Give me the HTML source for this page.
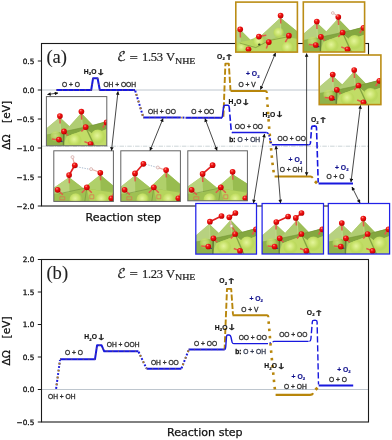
<!DOCTYPE html>
<html><head><meta charset="utf-8"><title>Reaction free energy diagram</title>
<style>
html,body{margin:0;padding:0;background:#fff;}
svg{display:block;}
text{font-family:"DejaVu Sans","Liberation Sans",sans-serif;fill:#2a2a2a;}
.tk{font-size:7.3px;fill:#111;stroke:#111;stroke-width:0.3px;}
.al{font-size:11.1px;fill:#111;stroke:#111;stroke-width:0.25px;}
.yl{font-size:10.6px;}
.lb{font-family:"Liberation Sans","DejaVu Sans",sans-serif;font-size:6.65px;fill:#2a2a2a;stroke:#2a2a2a;stroke-width:0.3px;}
.bd{font-family:"Liberation Sans","DejaVu Sans",sans-serif;font-size:6.75px;letter-spacing:0.2px;font-weight:bold;fill:#111;stroke:#111;stroke-width:0.15px;}
.bn{font-family:"Liberation Sans","DejaVu Sans",sans-serif;font-size:6.8px;font-weight:bold;fill:#10108c;stroke:#10108c;stroke-width:0.15px;}
.bc{font-weight:bold;fill:#111;stroke:#111;}
.bo{fill:#30384e;stroke:#30384e;}
.ar{font-family:"DejaVu Sans",sans-serif;font-size:8px;font-weight:normal;fill:#111;stroke:#111;stroke-width:0.22px;}
.pl{font-family:"Liberation Serif","DejaVu Serif",serif;font-size:18.6px;fill:#222;letter-spacing:0px;stroke:#222;stroke-width:0.1px;}
.eq{font-family:"Liberation Serif","DejaVu Serif",serif;font-size:12.6px;fill:#222;stroke:#222;stroke-width:0.2px;}
.ce{font-family:"DejaVu Math TeX Gyre","DejaVu Serif",serif;font-size:13.2px;fill:#222;stroke:#222;stroke-width:0.2px;}
</style></head>
<body>
<svg width="392" height="440" viewBox="0 0 392 440">
<rect x="0" y="0" width="392" height="440" fill="#fff"/>
<defs>
<radialGradient id="ra" cx="0.38" cy="0.32" r="0.75">
<stop offset="0" stop-color="#ff9a8a"/><stop offset="0.3" stop-color="#f01818"/><stop offset="0.8" stop-color="#d00000"/><stop offset="1" stop-color="#8a0000"/>
</radialGradient>
<radialGradient id="gs" cx="0.45" cy="0.4" r="0.6">
<stop offset="0" stop-color="#e4f59a"/><stop offset="0.6" stop-color="#c2de62"/><stop offset="1" stop-color="#a9cc4c" stop-opacity="0"/>
</radialGradient>
<marker id="ah" viewBox="0 0 6 6" refX="5.4" refY="3" markerWidth="4.3" markerHeight="3.9" orient="auto-start-reverse" markerUnits="userSpaceOnUse">
<path d="M0.4,0.2 L5.8,3 L0.4,5.8 Z" fill="#111"/>
</marker>
</defs>
<line x1="41.5" y1="90.0" x2="368.5" y2="90.0" stroke="#adb7c2" stroke-width="0.8"/>
<line x1="41.5" y1="146.2" x2="368.5" y2="146.2" stroke="#b4c2c6" stroke-width="0.7" stroke-dasharray="4.5,1.2,0.9,1.2"/>
<line x1="41.5" y1="389.5" x2="368.5" y2="389.5" stroke="#adb7c2" stroke-width="0.8"/>
<path d="M56.3,90 L91.2,90 L93.1,78.2 L97.6,78.2 L99.8,90 L135,90" fill="none" stroke="#1818de" stroke-width="2.0" stroke-linecap="butt" stroke-linejoin="round" />
<path d="M56.3,90 L91.2,90 L93.1,78.2 L97.6,78.2 L99.8,90 L135,90" fill="none" stroke="#b8860b" stroke-width="1.5" stroke-dasharray="0.8,4.9" stroke-linecap="butt" stroke-linejoin="round" stroke-opacity="0.55"/>
<path d="M135.2,90.6 L143.2,117" fill="none" stroke="#1818de" stroke-width="2.0" stroke-dasharray="1.9,1.6" stroke-linecap="butt" stroke-linejoin="round" />
<path d="M135.2,90.6 L143.2,117" fill="none" stroke="#b8860b" stroke-width="1.9" stroke-dasharray="1.6,5.4" stroke-linecap="butt" stroke-linejoin="round" stroke-dashoffset="-3.6"/>
<path d="M143.2,117.6 L180.8,117.6" fill="none" stroke="#1818de" stroke-width="2.0" stroke-linecap="butt" stroke-linejoin="round" />
<path d="M143.2,117.6 L180.8,117.6" fill="none" stroke="#b8860b" stroke-width="1.5" stroke-dasharray="0.8,4.9" stroke-linecap="butt" stroke-linejoin="round" stroke-opacity="0.55"/>
<path d="M182.6,117.6 L184.4,117.6" fill="none" stroke="#1818de" stroke-width="2.0" stroke-linecap="butt" stroke-linejoin="round" />
<path d="M181.2,117.6 L182.4,117.6" fill="none" stroke="#b8860b" stroke-width="1.6" stroke-linecap="butt" stroke-linejoin="round" />
<path d="M185.6,117.7 L222,117.7" fill="none" stroke="#1818de" stroke-width="2.0" stroke-linecap="butt" stroke-linejoin="round" />
<path d="M185.6,117.7 L222,117.7" fill="none" stroke="#b8860b" stroke-width="1.5" stroke-dasharray="0.8,4.9" stroke-linecap="butt" stroke-linejoin="round" stroke-opacity="0.55"/>
<path d="M227,63.6 L225.4,63.6 L223.4,117.4" fill="none" stroke="#b8860b" stroke-width="1.9" stroke-dasharray="6.1,2.3" stroke-linecap="butt" stroke-linejoin="round" stroke-dashoffset="1.8"/>
<path d="M227,63.6 L228.8,63.6 L230.5,90.6" fill="none" stroke="#b8860b" stroke-width="1.9" stroke-dasharray="6.1,2.3" stroke-linecap="butt" stroke-linejoin="round" stroke-dashoffset="1.8"/>
<path d="M230.6,91 L265.2,91 C266.3,91 266.8,91.6 266.9,93" fill="none" stroke="#b8860b" stroke-width="2.1" stroke-linecap="butt" stroke-linejoin="round" />
<path d="M267.0,97.2 L269.0,126 L272.3,162 L274.2,176" fill="none" stroke="#b8860b" stroke-width="2.6" stroke-dasharray="2.5,4.8" stroke-linecap="butt" stroke-linejoin="round" />
<path d="M274.6,176.5 L310.5,176.5 C311.6,176.5 312.2,177 312.8,177.8" fill="none" stroke="#b8860b" stroke-width="2.1" stroke-linecap="butt" stroke-linejoin="round" />
<path d="M316,180.2 l2,2 l-2,2 l-2,-2z" fill="#b8860b"/>
<path d="M221.5,117.7 C222.6,117.7 222.5,116 222.7,114 L223.6,107 C223.8,105.4 224.2,105.3 225.2,105.3 L227.8,105.3 C228.8,105.3 229,105.6 229.2,107" fill="none" stroke="#1818de" stroke-width="1.6" stroke-linecap="butt" stroke-linejoin="round" />
<path d="M229.2,107 L231.2,130.5 C231.4,132.4 231.8,132.5 233,132.5" fill="none" stroke="#1818de" stroke-width="1.6" stroke-dasharray="6.4,2.6" stroke-linecap="butt" stroke-linejoin="round" stroke-dashoffset="1.5"/>
<path d="M232.6,132.5 L266.3,132.5" fill="none" stroke="#1818de" stroke-width="1.6" stroke-linecap="butt" stroke-linejoin="round" />
<path d="M266.3,132.5 C268,132.6 268.6,134 269.2,136 L271,142.5 C271.6,144.7 272.2,144.8 274,144.8" fill="none" stroke="#1818de" stroke-width="1.6" stroke-dasharray="2.6,1.5,1.2,1.5" stroke-linecap="butt" stroke-linejoin="round" />
<path d="M273.6,144.8 L308.4,144.8" fill="none" stroke="#1818de" stroke-width="1.6" stroke-linecap="butt" stroke-linejoin="round" />
<path d="M315,126.1 L312.8,126.1 C311.9,126.1 311.7,126.3 311.6,127.6 L310.5,142.5 C310.3,144.6 310,144.8 308.4,144.8" fill="none" stroke="#1818de" stroke-width="1.6" stroke-dasharray="6.4,2.6" stroke-linecap="butt" stroke-linejoin="round" stroke-dashoffset="0"/>
<path d="M314,126.1 L315.2,126.1 C316.2,126.1 316.4,126.3 316.5,127.6 L318.2,182.4" fill="none" stroke="#1818de" stroke-width="1.6" stroke-dasharray="6.4,2.6" stroke-linecap="butt" stroke-linejoin="round" stroke-dashoffset="0"/>
<path d="M318.6,183.4 L353,183.4" fill="none" stroke="#1818de" stroke-width="2.0" stroke-linecap="butt" stroke-linejoin="round" />
<path d="M56.1,388.8 L60,360" fill="none" stroke="#1818de" stroke-width="2.0" stroke-dasharray="1.9,1.6" stroke-linecap="butt" stroke-linejoin="round" />
<path d="M56.1,388.8 L60,360" fill="none" stroke="#b8860b" stroke-width="1.9" stroke-dasharray="1.6,5.4" stroke-linecap="butt" stroke-linejoin="round" stroke-dashoffset="-3.6"/>
<path d="M60,359.2 L95,359.2 L97.1,345.2 L101.5,345.2 L104.2,351.3 L138.4,351.3" fill="none" stroke="#1818de" stroke-width="2.0" stroke-linecap="butt" stroke-linejoin="round" />
<path d="M60,359.2 L95,359.2 L97.1,345.2 L101.5,345.2 L104.2,351.3 L138.4,351.3" fill="none" stroke="#b8860b" stroke-width="1.5" stroke-dasharray="0.8,4.9" stroke-linecap="butt" stroke-linejoin="round" stroke-opacity="0.55"/>
<path d="M138.6,351.8 L146.4,368.4" fill="none" stroke="#1818de" stroke-width="2.0" stroke-dasharray="1.9,1.6" stroke-linecap="butt" stroke-linejoin="round" />
<path d="M138.6,351.8 L146.4,368.4" fill="none" stroke="#b8860b" stroke-width="1.9" stroke-dasharray="1.6,5.4" stroke-linecap="butt" stroke-linejoin="round" stroke-dashoffset="-3.6"/>
<path d="M146.6,368.8 L181.3,368.8" fill="none" stroke="#1818de" stroke-width="2.0" stroke-linecap="butt" stroke-linejoin="round" />
<path d="M146.6,368.8 L181.3,368.8" fill="none" stroke="#b8860b" stroke-width="1.5" stroke-dasharray="0.8,4.9" stroke-linecap="butt" stroke-linejoin="round" stroke-opacity="0.55"/>
<path d="M181.5,368.4 L188.6,350.2" fill="none" stroke="#1818de" stroke-width="2.0" stroke-dasharray="1.9,1.6" stroke-linecap="butt" stroke-linejoin="round" />
<path d="M181.5,368.4 L188.6,350.2" fill="none" stroke="#b8860b" stroke-width="1.9" stroke-dasharray="1.6,5.4" stroke-linecap="butt" stroke-linejoin="round" stroke-dashoffset="-3.6"/>
<path d="M188.6,349.5 L224.6,349.5" fill="none" stroke="#1818de" stroke-width="2.0" stroke-linecap="butt" stroke-linejoin="round" />
<path d="M188.6,349.5 L224.6,349.5" fill="none" stroke="#b8860b" stroke-width="1.5" stroke-dasharray="0.8,4.9" stroke-linecap="butt" stroke-linejoin="round" stroke-opacity="0.55"/>
<path d="M229,288.9 L227.0,288.9 L224.6,349" fill="none" stroke="#b8860b" stroke-width="1.9" stroke-dasharray="6.1,2.3" stroke-linecap="butt" stroke-linejoin="round" stroke-dashoffset="1.0"/>
<path d="M229,288.9 L231.2,288.9 L233.0,314.8" fill="none" stroke="#b8860b" stroke-width="1.9" stroke-dasharray="6.1,2.3" stroke-linecap="butt" stroke-linejoin="round" stroke-dashoffset="0.6"/>
<path d="M232.5,315.2 L266.8,315.2 C267.9,315.2 268.3,315.8 268.4,317.2" fill="none" stroke="#b8860b" stroke-width="2.1" stroke-linecap="butt" stroke-linejoin="round" />
<path d="M268.6,321.4 L271.0,350 L274.2,383 L275.4,394" fill="none" stroke="#b8860b" stroke-width="2.6" stroke-dasharray="2.5,4.8" stroke-linecap="butt" stroke-linejoin="round" />
<path d="M275.6,394.9 L310,394.9 C311.5,394.9 312.5,394.4 313.2,393.2" fill="none" stroke="#b8860b" stroke-width="2.2" stroke-linecap="butt" stroke-linejoin="round" />
<path d="M316.5,386.8 l2,2 l-2,2 l-2,-2z" fill="#b8860b"/>
<path d="M224.4,349.5 C225.6,349.5 225.6,348 225.8,346 L226.5,336.6 C226.6,335.2 226.9,335 227.7,335 L229.2,335 C230.2,335 230.6,335.2 231,337.2 L231.8,341 C232.2,343.4 232.6,343.6 234,343.6 L268,343.6" fill="none" stroke="#1818de" stroke-width="1.4" stroke-linecap="butt" stroke-linejoin="round" />
<path d="M269.6,343.2 L270.8,342.6" fill="none" stroke="#1818de" stroke-width="1.4" stroke-linecap="butt" stroke-linejoin="round" />
<path d="M272.6,341.8 L274,341.4 L308.6,341.4" fill="none" stroke="#1818de" stroke-width="1.4" stroke-linecap="butt" stroke-linejoin="round" />
<path d="M315.4,320.4 L313.6,320.4 C312.7,320.4 312.4,320.6 312.3,322 L310.9,339 C310.7,341 310.3,341.4 308.6,341.4" fill="none" stroke="#1818de" stroke-width="1.4" stroke-dasharray="6.4,2.6" stroke-linecap="butt" stroke-linejoin="round" />
<path d="M314.4,320.4 L315.8,320.4 C316.8,320.4 317,320.6 317.1,322 L318.5,384.4" fill="none" stroke="#1818de" stroke-width="1.4" stroke-dasharray="6.4,2.6" stroke-linecap="butt" stroke-linejoin="round" />
<path d="M318.7,385.5 L353.2,385.5" fill="none" stroke="#1818de" stroke-width="2.0" stroke-linecap="butt" stroke-linejoin="round" />
<g transform="translate(46.4,96.6)"><clipPath id="c46_96"><rect x="0" y="0" width="60.4" height="49.2"/></clipPath><rect x="0" y="0" width="60.4" height="49.2" fill="#fff"/><g clip-path="url(#c46_96)"><path d="M0,32 L13.4,20.6 L23,29.6 L34.9,16.4 L46.8,28.8 L60.4,24.6 L60.4,49.2 L0,49.2 Z" fill="#a8c865"/><path d="M0,32 L13.4,20.6 L14.2,36 L0,40 Z" fill="#b7d180"/><path d="M13.4,20.6 L23,29.6 L24,33.5 L17.5,35 L14.2,36 Z" fill="#a7c768"/><path d="M23,29.6 L34.9,16.4 L36,30.5 L17.5,35 Z" fill="#b0cd72"/><path d="M34.9,16.4 L46.8,28.8 L39,30.5 L36,30.5 Z" fill="#9dbe58"/><path d="M0,38 L14.2,35.5 L17.5,35 L16,49.2 L0,49.2 Z" fill="#8fb24a"/><path d="M17.5,35 L39,30.5 L60.4,24.6 L60.4,32.5 L47,38 L39.8,32.6 L20.5,39.8 Z" fill="#84a73f"/><path d="M20.5,39.8 L39.8,32.6 L47,38 L60.4,32.5 L60.4,49.2 L16,49.2 Z" fill="#c1dc66"/><circle cx="28.5" cy="44" r="7" fill="url(#gs)"/><circle cx="51.5" cy="40.5" r="7.5" fill="url(#gs)"/><circle cx="9.5" cy="40" r="5.5" fill="url(#gs)" opacity="0.65"/><path d="M17.5,36 L17,49.2" stroke="#4d6b26" stroke-width="1.6" fill="none" opacity="0.75"/><path d="M39.5,31 L48,49.2" stroke="#6a8a30" stroke-width="1.3" fill="none" opacity="0.7"/><path d="M17.5,35 L39,30.5 L60.4,25" stroke="#6d8c34" stroke-width="0.6" fill="none" opacity="0.7"/><path d="M13.6,21 L14.2,36 M35,17 L36,30" stroke="#cbe09a" stroke-width="0.7" fill="none"/><line x1="13.5" y1="21.0" x2="13.7" y2="27.0" stroke="#e25a48" stroke-width="1.5" stroke-linecap="butt"/><line x1="35.0" y1="17.0" x2="35.3" y2="23.0" stroke="#e25a48" stroke-width="1.5" stroke-linecap="butt"/><line x1="38.9" y1="30.6" x2="35.0" y2="35.0" stroke="#e25a48" stroke-width="1.5" stroke-linecap="butt"/><line x1="17.4" y1="35.4" x2="21.5" y2="38.5" stroke="#e25a48" stroke-width="1.5" stroke-linecap="butt"/><line x1="12.3" y1="43.3" x2="5.5" y2="42.5" stroke="#e25a48" stroke-width="1.5" stroke-linecap="butt"/><line x1="43.5" y1="47.1" x2="38.0" y2="45.0" stroke="#e25a48" stroke-width="1.5" stroke-linecap="butt"/><line x1="59.4" y1="26.1" x2="56.5" y2="31.0" stroke="#e25a48" stroke-width="1.5" stroke-linecap="butt"/><line x1="12.3" y1="43.3" x2="16.0" y2="45.0" stroke="#2a2a80" stroke-width="1.2" stroke-linecap="butt"/><circle cx="13.5" cy="19.5" r="2.85" fill="url(#ra)"/><circle cx="35.0" cy="15.0" r="2.85" fill="url(#ra)"/><circle cx="39.3" cy="30.5" r="2.85" fill="url(#ra)"/><circle cx="17.6" cy="34.8" r="2.85" fill="url(#ra)"/><circle cx="12.5" cy="43.0" r="2.85" fill="url(#ra)"/><circle cx="44.2" cy="47.4" r="2.85" fill="url(#ra)"/><circle cx="60.2" cy="25.8" r="2.85" fill="url(#ra)"/></g><rect x="0" y="0" width="60.4" height="49.2" fill="none" stroke="#636363" stroke-width="1.0"/></g>
<g transform="translate(53.8,150.8)"><clipPath id="c53_150"><rect x="0" y="0" width="59.6" height="50.6"/></clipPath><rect x="0" y="0" width="59.6" height="50.6" fill="#fff"/><g clip-path="url(#c53_150)"><path d="M0,37 L15.3,26.5 L29.5,37.5 L46.5,24 L59.6,35 L59.6,50.6 L0,50.6 Z" fill="#a9ca62"/><path d="M0,37 L15.3,26.5 L16.0,44 L0,46 Z" fill="#b9d47c"/><path d="M15.3,26.5 L29.5,37.5 L31.5,40 L16.0,44 Z" fill="#a2c45c"/><path d="M29.5,37.5 L46.5,24 L47.0,40 L31.5,40 Z" fill="#b0d06a"/><path d="M46.5,24 L59.6,35 L59.6,42 L47.0,40 Z" fill="#98bc50"/><path d="M0,43 L16,41.5 L33,37.5 L47,40 L59.6,40 L59.6,50.6 L0,50.6 Z" fill="#9fc152"/><path d="M33,38 L36,50.6 L59.6,50.6 L59.6,42 L47,40 Z" fill="#b6d55d"/><circle cx="22" cy="49" r="6.5" fill="url(#gs)"/><circle cx="48" cy="49" r="6.5" fill="url(#gs)"/><path d="M33,37 L31,50.6 M33,37 L5,43" stroke="#5f7d2a" stroke-width="0.7" fill="none" opacity="0.6"/><line x1="15.3" y1="25.5" x2="15.6" y2="32.5" stroke="#e25a48" stroke-width="1.5" stroke-linecap="butt"/><line x1="46.5" y1="23.0" x2="46.8" y2="29.5" stroke="#e25a48" stroke-width="1.5" stroke-linecap="butt"/><line x1="33.0" y1="37.0" x2="28.0" y2="42.0" stroke="#e25a48" stroke-width="1.5" stroke-linecap="butt"/><line x1="33.0" y1="37.0" x2="38.0" y2="42.0" stroke="#e25a48" stroke-width="1.5" stroke-linecap="butt"/><line x1="4.0" y1="39.0" x2="9.0" y2="44.0" stroke="#e25a48" stroke-width="1.5" stroke-linecap="butt"/><line x1="58.0" y1="47.5" x2="60.0" y2="42.0" stroke="#e25a48" stroke-width="1.5" stroke-linecap="butt"/><path d="M6,46 h5 v3 h-5z M36,44 h4 v4 h-4z" fill="none" stroke="#e07050" stroke-width="0.7"/><circle cx="33.0" cy="36.5" r="2.85" fill="url(#ra)"/><circle cx="3.8" cy="39.0" r="2.85" fill="url(#ra)"/><circle cx="57.5" cy="47.5" r="2.85" fill="url(#ra)"/><line x1="15.3" y1="24.3" x2="21.0" y2="14.5" stroke="#e02020" stroke-width="1.7" stroke-linecap="butt"/><line x1="21.0" y1="14.5" x2="18.8" y2="6.5" stroke="#e8a8a0" stroke-width="1.2" stroke-linecap="butt"/><path d="M23,16 L36,18.5" stroke="#8fa6bf" stroke-width="0.8" stroke-dasharray="1.3,1.3" fill="none"/><line x1="37.5" y1="18.5" x2="46.0" y2="21.5" stroke="#e8b0a8" stroke-width="1.2" stroke-linecap="butt"/><circle cx="21.0" cy="14.5" r="2.85" fill="url(#ra)"/><circle cx="15.3" cy="24.3" r="2.85" fill="url(#ra)"/><circle cx="46.5" cy="22.0" r="2.85" fill="url(#ra)"/><circle cx="18.7" cy="6.3" r="1.5" fill="#fff6f4" stroke="#c79a98" stroke-width="0.6"/><circle cx="37.3" cy="18.3" r="1.5" fill="#fff6f4" stroke="#c79a98" stroke-width="0.6"/></g><rect x="0" y="0" width="59.6" height="50.6" fill="none" stroke="#636363" stroke-width="1.0"/></g>
<g transform="translate(120.8,150.8)"><clipPath id="c120_150"><rect x="0" y="0" width="59.6" height="50.6"/></clipPath><rect x="0" y="0" width="59.6" height="50.6" fill="#fff"/><g clip-path="url(#c120_150)"><path d="M0,36 L14.1,24.6 L29.1,36.6 L45.3,21.2 L59.6,33.5 L59.6,50.6 L0,50.6 Z" fill="#a9ca62"/><path d="M0,36 L14.1,24.6 L14.799999999999999,44 L0,46 Z" fill="#b9d47c"/><path d="M14.1,24.6 L29.1,36.6 L31.1,40 L14.799999999999999,44 Z" fill="#a2c45c"/><path d="M29.1,36.6 L45.3,21.2 L45.8,40 L31.1,40 Z" fill="#b0d06a"/><path d="M45.3,21.2 L59.6,33.5 L59.6,42 L45.8,40 Z" fill="#98bc50"/><path d="M0,43 L16,41.5 L33,37.5 L47,40 L59.6,40 L59.6,50.6 L0,50.6 Z" fill="#9fc152"/><path d="M33,38 L36,50.6 L59.6,50.6 L59.6,42 L47,40 Z" fill="#b6d55d"/><circle cx="22" cy="49" r="6.5" fill="url(#gs)"/><circle cx="48" cy="49" r="6.5" fill="url(#gs)"/><path d="M33,37 L31,50.6 M33,37 L5,43" stroke="#5f7d2a" stroke-width="0.7" fill="none" opacity="0.6"/><line x1="14.1" y1="23.6" x2="14.4" y2="30.6" stroke="#e25a48" stroke-width="1.5" stroke-linecap="butt"/><line x1="45.3" y1="20.2" x2="45.6" y2="26.7" stroke="#e25a48" stroke-width="1.5" stroke-linecap="butt"/><line x1="33.0" y1="37.0" x2="28.0" y2="42.0" stroke="#e25a48" stroke-width="1.5" stroke-linecap="butt"/><line x1="33.0" y1="37.0" x2="38.0" y2="42.0" stroke="#e25a48" stroke-width="1.5" stroke-linecap="butt"/><line x1="4.0" y1="39.0" x2="9.0" y2="44.0" stroke="#e25a48" stroke-width="1.5" stroke-linecap="butt"/><line x1="58.0" y1="47.5" x2="60.0" y2="42.0" stroke="#e25a48" stroke-width="1.5" stroke-linecap="butt"/><path d="M6,46 h5 v3 h-5z M36,44 h4 v4 h-4z" fill="none" stroke="#e07050" stroke-width="0.7"/><circle cx="33.0" cy="36.5" r="2.85" fill="url(#ra)"/><circle cx="3.8" cy="39.0" r="2.85" fill="url(#ra)"/><circle cx="57.5" cy="47.5" r="2.85" fill="url(#ra)"/><line x1="14.3" y1="22.5" x2="22.6" y2="13.0" stroke="#e02020" stroke-width="1.6" stroke-linecap="butt"/><path d="M25,13.5 L36,16.5" stroke="#8fa6bf" stroke-width="0.8" stroke-dasharray="1.3,1.3" fill="none"/><line x1="37.5" y1="16.8" x2="45.0" y2="19.5" stroke="#e8b0a8" stroke-width="1.2" stroke-linecap="butt"/><circle cx="22.6" cy="13.0" r="2.85" fill="url(#ra)"/><circle cx="14.2" cy="22.6" r="2.85" fill="url(#ra)"/><circle cx="45.3" cy="19.3" r="2.85" fill="url(#ra)"/><circle cx="37.0" cy="16.7" r="1.5" fill="#fff6f4" stroke="#c79a98" stroke-width="0.6"/></g><rect x="0" y="0" width="59.6" height="50.6" fill="none" stroke="#636363" stroke-width="1.0"/></g>
<g transform="translate(187.8,150.8)"><clipPath id="c187_150"><rect x="0" y="0" width="59.6" height="50.0"/></clipPath><rect x="0" y="0" width="59.6" height="50.0" fill="#fff"/><g clip-path="url(#c187_150)"><path d="M0,35.7 L14.7,25.2 L29.1,37 L44.8,23.4 L59.6,33 L59.6,50.0 L0,50.0 Z" fill="#a9ca62"/><path d="M0,35.7 L14.7,25.2 L15.399999999999999,44 L0,46 Z" fill="#b9d47c"/><path d="M14.7,25.2 L29.1,37 L31.1,40 L15.399999999999999,44 Z" fill="#a2c45c"/><path d="M29.1,37 L44.8,23.4 L45.3,40 L31.1,40 Z" fill="#b0d06a"/><path d="M44.8,23.4 L59.6,33 L59.6,42 L45.3,40 Z" fill="#98bc50"/><path d="M0,43 L16,41.5 L33,37.5 L47,40 L59.6,40 L59.6,50.0 L0,50.0 Z" fill="#9fc152"/><path d="M33,38 L36,50.0 L59.6,50.0 L59.6,42 L47,40 Z" fill="#b6d55d"/><circle cx="22" cy="49" r="6.5" fill="url(#gs)"/><circle cx="48" cy="49" r="6.5" fill="url(#gs)"/><path d="M33,37 L31,50.0 M33,37 L5,43" stroke="#5f7d2a" stroke-width="0.7" fill="none" opacity="0.6"/><line x1="14.7" y1="24.2" x2="15.0" y2="31.2" stroke="#e25a48" stroke-width="1.5" stroke-linecap="butt"/><line x1="44.8" y1="22.4" x2="45.1" y2="28.9" stroke="#e25a48" stroke-width="1.5" stroke-linecap="butt"/><line x1="33.0" y1="37.0" x2="28.0" y2="42.0" stroke="#e25a48" stroke-width="1.5" stroke-linecap="butt"/><line x1="33.0" y1="37.0" x2="38.0" y2="42.0" stroke="#e25a48" stroke-width="1.5" stroke-linecap="butt"/><line x1="4.0" y1="39.0" x2="9.0" y2="44.0" stroke="#e25a48" stroke-width="1.5" stroke-linecap="butt"/><line x1="58.0" y1="47.5" x2="60.0" y2="42.0" stroke="#e25a48" stroke-width="1.5" stroke-linecap="butt"/><path d="M6,46 h5 v3 h-5z M36,44 h4 v4 h-4z" fill="none" stroke="#e07050" stroke-width="0.7"/><circle cx="33.0" cy="36.5" r="2.85" fill="url(#ra)"/><circle cx="3.8" cy="39.0" r="2.85" fill="url(#ra)"/><circle cx="57.5" cy="47.5" r="2.85" fill="url(#ra)"/><line x1="14.8" y1="23.0" x2="24.8" y2="14.4" stroke="#e02020" stroke-width="1.6" stroke-linecap="butt"/><circle cx="24.8" cy="14.4" r="2.85" fill="url(#ra)"/><circle cx="14.8" cy="23.1" r="2.85" fill="url(#ra)"/><circle cx="44.8" cy="21.0" r="2.85" fill="url(#ra)"/></g><rect x="0" y="0" width="59.6" height="50.0" fill="none" stroke="#636363" stroke-width="1.0"/></g>
<rect x="41.5" y="43.5" width="327.0" height="162.5" fill="none" stroke="#1a1a1a" stroke-width="1.1"/>
<rect x="41.5" y="259.5" width="327.0" height="162.5" fill="none" stroke="#1a1a1a" stroke-width="1.1"/>
<line x1="37.8" y1="61.0" x2="41.5" y2="61.0" stroke="#1a1a1a" stroke-width="1.0"/>
<text x="34.3" y="63.75" text-anchor="end" class="tk">0.5</text>
<line x1="37.8" y1="90.0" x2="41.5" y2="90.0" stroke="#1a1a1a" stroke-width="1.0"/>
<text x="34.3" y="92.75" text-anchor="end" class="tk">0.0</text>
<line x1="37.8" y1="119.0" x2="41.5" y2="119.0" stroke="#1a1a1a" stroke-width="1.0"/>
<text x="34.3" y="121.75" text-anchor="end" class="tk">−0.5</text>
<line x1="37.8" y1="148.0" x2="41.5" y2="148.0" stroke="#1a1a1a" stroke-width="1.0"/>
<text x="34.3" y="150.75" text-anchor="end" class="tk">−1.0</text>
<line x1="37.8" y1="177.0" x2="41.5" y2="177.0" stroke="#1a1a1a" stroke-width="1.0"/>
<text x="34.3" y="179.75" text-anchor="end" class="tk">−1.5</text>
<line x1="37.8" y1="206.0" x2="41.5" y2="206.0" stroke="#1a1a1a" stroke-width="1.0"/>
<text x="34.3" y="208.75" text-anchor="end" class="tk">−2.0</text>
<line x1="37.8" y1="259.5" x2="41.5" y2="259.5" stroke="#1a1a1a" stroke-width="1.0"/>
<text x="34.3" y="262.25" text-anchor="end" class="tk">2.0</text>
<line x1="37.8" y1="292.0" x2="41.5" y2="292.0" stroke="#1a1a1a" stroke-width="1.0"/>
<text x="34.3" y="294.75" text-anchor="end" class="tk">1.5</text>
<line x1="37.8" y1="324.5" x2="41.5" y2="324.5" stroke="#1a1a1a" stroke-width="1.0"/>
<text x="34.3" y="327.25" text-anchor="end" class="tk">1.0</text>
<line x1="37.8" y1="357.0" x2="41.5" y2="357.0" stroke="#1a1a1a" stroke-width="1.0"/>
<text x="34.3" y="359.75" text-anchor="end" class="tk">0.5</text>
<line x1="37.8" y1="389.5" x2="41.5" y2="389.5" stroke="#1a1a1a" stroke-width="1.0"/>
<text x="34.3" y="392.25" text-anchor="end" class="tk">0.0</text>
<line x1="37.8" y1="422.0" x2="41.5" y2="422.0" stroke="#1a1a1a" stroke-width="1.0"/>
<text x="34.3" y="424.75" text-anchor="end" class="tk">−0.5</text>
<text transform="translate(9.9,149.8) rotate(-90)" class="al yl">ΔΩ</text>
<text transform="translate(9.9,122.9) rotate(-90)" class="al yl">[eV]</text>
<text transform="translate(9.9,365.40000000000003) rotate(-90)" class="al yl">ΔΩ</text>
<text transform="translate(9.9,338.5) rotate(-90)" class="al yl">[eV]</text>
<text x="123.3" y="220.6" text-anchor="middle" class="al">Reaction step</text>
<text x="204.8" y="436.4" text-anchor="middle" class="al">Reaction step</text>
<text x="46.4" y="62.8" class="pl">(a)</text>
<text x="46.4" y="278.9" class="pl">(b)</text>
<text x="117.0" y="61.4" class="ce" textLength="9.2" lengthAdjust="spacingAndGlyphs">ℰ</text>
<text x="129.5" y="61.8" class="eq" textLength="8.4" lengthAdjust="spacingAndGlyphs">=</text>
<text x="141.9" y="61.4" class="eq" textLength="21.2" lengthAdjust="spacing">1.53</text>
<text x="165.9" y="61.4" class="eq">V</text>
<text x="175.0" y="63.699999999999996" class="eq" style="font-size:8.4px" textLength="20.4" lengthAdjust="spacingAndGlyphs">NHE</text>
<text x="117.0" y="277.5" class="ce" textLength="9.2" lengthAdjust="spacingAndGlyphs">ℰ</text>
<text x="129.5" y="277.9" class="eq" textLength="8.4" lengthAdjust="spacingAndGlyphs">=</text>
<text x="141.9" y="277.5" class="eq" textLength="21.2" lengthAdjust="spacing">1.23</text>
<text x="165.9" y="277.5" class="eq">V</text>
<text x="175.0" y="279.8" class="eq" style="font-size:8.4px" textLength="20.4" lengthAdjust="spacingAndGlyphs">NHE</text>
<g transform="translate(195.8,203.5)"><clipPath id="c195_203"><rect x="0" y="0" width="60.7" height="50.6"/></clipPath><rect x="0" y="0" width="60.7" height="50.6" fill="#fff"/><g clip-path="url(#c195_203)"><path d="M0,32 L13.4,20.6 L23,29.6 L34.9,16.4 L46.8,28.8 L60.7,24.6 L60.7,50.6 L0,50.6 Z" fill="#a8c865"/><path d="M0,32 L13.4,20.6 L14.2,36 L0,40 Z" fill="#b7d180"/><path d="M13.4,20.6 L23,29.6 L24,33.5 L17.5,35 L14.2,36 Z" fill="#a7c768"/><path d="M23,29.6 L34.9,16.4 L36,30.5 L17.5,35 Z" fill="#b0cd72"/><path d="M34.9,16.4 L46.8,28.8 L39,30.5 L36,30.5 Z" fill="#9dbe58"/><path d="M0,38 L14.2,35.5 L17.5,35 L16,50.6 L0,50.6 Z" fill="#8fb24a"/><path d="M17.5,35 L39,30.5 L60.7,24.6 L60.7,32.5 L47,38 L39.8,32.6 L20.5,39.8 Z" fill="#84a73f"/><path d="M20.5,39.8 L39.8,32.6 L47,38 L60.7,32.5 L60.7,50.6 L16,50.6 Z" fill="#c1dc66"/><circle cx="28.5" cy="44" r="7" fill="url(#gs)"/><circle cx="51.5" cy="40.5" r="7.5" fill="url(#gs)"/><circle cx="9.5" cy="40" r="5.5" fill="url(#gs)" opacity="0.65"/><path d="M17.5,36 L17,50.6" stroke="#4d6b26" stroke-width="1.6" fill="none" opacity="0.75"/><path d="M39.5,31 L48,50.6" stroke="#6a8a30" stroke-width="1.3" fill="none" opacity="0.7"/><path d="M17.5,35 L39,30.5 L60.7,25" stroke="#6d8c34" stroke-width="0.6" fill="none" opacity="0.7"/><path d="M13.6,21 L14.2,36 M35,17 L36,30" stroke="#cbe09a" stroke-width="0.7" fill="none"/><line x1="38.9" y1="30.6" x2="35.0" y2="35.0" stroke="#e25a48" stroke-width="1.5" stroke-linecap="butt"/><line x1="17.4" y1="35.4" x2="21.5" y2="38.5" stroke="#e25a48" stroke-width="1.5" stroke-linecap="butt"/><line x1="12.3" y1="43.3" x2="5.5" y2="42.5" stroke="#e25a48" stroke-width="1.5" stroke-linecap="butt"/><line x1="43.5" y1="47.1" x2="38.0" y2="45.0" stroke="#e25a48" stroke-width="1.5" stroke-linecap="butt"/><line x1="59.4" y1="26.1" x2="56.5" y2="31.0" stroke="#e25a48" stroke-width="1.5" stroke-linecap="butt"/><line x1="12.3" y1="43.3" x2="16.0" y2="45.0" stroke="#2a2a80" stroke-width="1.2" stroke-linecap="butt"/><circle cx="39.3" cy="30.5" r="2.85" fill="url(#ra)"/><circle cx="17.6" cy="34.8" r="2.85" fill="url(#ra)"/><circle cx="12.5" cy="43.0" r="2.85" fill="url(#ra)"/><circle cx="44.2" cy="47.4" r="2.85" fill="url(#ra)"/><circle cx="60.2" cy="25.8" r="2.85" fill="url(#ra)"/><line x1="14.1" y1="18.2" x2="25.7" y2="12.5" stroke="#e02020" stroke-width="1.6" stroke-linecap="butt"/><line x1="33.5" y1="13.8" x2="39.6" y2="9.5" stroke="#e02020" stroke-width="1.6" stroke-linecap="butt"/><line x1="34.5" y1="17.0" x2="35.5" y2="22.5" stroke="#e8b0a8" stroke-width="1.2" stroke-linecap="butt"/><line x1="36.0" y1="23.0" x2="39.5" y2="28.0" stroke="#e05040" stroke-width="1.3" stroke-linecap="butt"/><circle cx="25.7" cy="12.5" r="2.85" fill="url(#ra)"/><circle cx="14.1" cy="18.2" r="2.85" fill="url(#ra)"/><circle cx="39.6" cy="9.5" r="2.85" fill="url(#ra)"/><circle cx="33.5" cy="13.8" r="2.85" fill="url(#ra)"/><circle cx="35.6" cy="22.5" r="1.5" fill="#fff6f4" stroke="#c79a98" stroke-width="0.6"/></g><rect x="0" y="0" width="60.7" height="50.6" fill="none" stroke="#2222e8" stroke-width="1.25"/></g>
<g transform="translate(262.1,203.5)"><clipPath id="c262_203"><rect x="0" y="0" width="61.4" height="50.5"/></clipPath><rect x="0" y="0" width="61.4" height="50.5" fill="#fff"/><g clip-path="url(#c262_203)"><path d="M0,32 L13.4,20.6 L23,29.6 L34.9,16.4 L46.8,28.8 L61.4,24.6 L61.4,50.5 L0,50.5 Z" fill="#a8c865"/><path d="M0,32 L13.4,20.6 L14.2,36 L0,40 Z" fill="#b7d180"/><path d="M13.4,20.6 L23,29.6 L24,33.5 L17.5,35 L14.2,36 Z" fill="#a7c768"/><path d="M23,29.6 L34.9,16.4 L36,30.5 L17.5,35 Z" fill="#b0cd72"/><path d="M34.9,16.4 L46.8,28.8 L39,30.5 L36,30.5 Z" fill="#9dbe58"/><path d="M0,38 L14.2,35.5 L17.5,35 L16,50.5 L0,50.5 Z" fill="#8fb24a"/><path d="M17.5,35 L39,30.5 L61.4,24.6 L61.4,32.5 L47,38 L39.8,32.6 L20.5,39.8 Z" fill="#84a73f"/><path d="M20.5,39.8 L39.8,32.6 L47,38 L61.4,32.5 L61.4,50.5 L16,50.5 Z" fill="#c1dc66"/><circle cx="28.5" cy="44" r="7" fill="url(#gs)"/><circle cx="51.5" cy="40.5" r="7.5" fill="url(#gs)"/><circle cx="9.5" cy="40" r="5.5" fill="url(#gs)" opacity="0.65"/><path d="M17.5,36 L17,50.5" stroke="#4d6b26" stroke-width="1.6" fill="none" opacity="0.75"/><path d="M39.5,31 L48,50.5" stroke="#6a8a30" stroke-width="1.3" fill="none" opacity="0.7"/><path d="M17.5,35 L39,30.5 L61.4,25" stroke="#6d8c34" stroke-width="0.6" fill="none" opacity="0.7"/><path d="M13.6,21 L14.2,36 M35,17 L36,30" stroke="#cbe09a" stroke-width="0.7" fill="none"/><line x1="38.9" y1="30.6" x2="35.0" y2="35.0" stroke="#e25a48" stroke-width="1.5" stroke-linecap="butt"/><line x1="17.4" y1="35.4" x2="21.5" y2="38.5" stroke="#e25a48" stroke-width="1.5" stroke-linecap="butt"/><line x1="12.3" y1="43.3" x2="5.5" y2="42.5" stroke="#e25a48" stroke-width="1.5" stroke-linecap="butt"/><line x1="43.5" y1="47.1" x2="38.0" y2="45.0" stroke="#e25a48" stroke-width="1.5" stroke-linecap="butt"/><line x1="59.4" y1="26.1" x2="56.5" y2="31.0" stroke="#e25a48" stroke-width="1.5" stroke-linecap="butt"/><line x1="12.3" y1="43.3" x2="16.0" y2="45.0" stroke="#2a2a80" stroke-width="1.2" stroke-linecap="butt"/><circle cx="39.3" cy="30.5" r="2.85" fill="url(#ra)"/><circle cx="17.6" cy="34.8" r="2.85" fill="url(#ra)"/><circle cx="12.5" cy="43.0" r="2.85" fill="url(#ra)"/><circle cx="44.2" cy="47.4" r="2.85" fill="url(#ra)"/><circle cx="60.2" cy="25.8" r="2.85" fill="url(#ra)"/><line x1="14.2" y1="18.5" x2="26.0" y2="13.0" stroke="#e02020" stroke-width="1.6" stroke-linecap="butt"/><line x1="33.7" y1="14.4" x2="39.4" y2="9.5" stroke="#e02020" stroke-width="1.6" stroke-linecap="butt"/><line x1="13.9" y1="19.5" x2="14.0" y2="26.0" stroke="#e25a48" stroke-width="1.5" stroke-linecap="butt"/><line x1="34.0" y1="15.5" x2="34.3" y2="22.0" stroke="#e25a48" stroke-width="1.5" stroke-linecap="butt"/><circle cx="26.0" cy="13.0" r="2.85" fill="url(#ra)"/><circle cx="14.2" cy="18.5" r="2.85" fill="url(#ra)"/><circle cx="39.4" cy="9.5" r="2.85" fill="url(#ra)"/><circle cx="33.7" cy="14.4" r="2.85" fill="url(#ra)"/></g><rect x="0" y="0" width="61.4" height="50.5" fill="none" stroke="#2222e8" stroke-width="1.25"/></g>
<g transform="translate(328.3,203.5)"><clipPath id="c328_203"><rect x="0" y="0" width="61.3" height="50.5"/></clipPath><rect x="0" y="0" width="61.3" height="50.5" fill="#fff"/><g clip-path="url(#c328_203)"><path d="M0,32 L13.4,20.6 L23,29.6 L34.9,16.4 L46.8,28.8 L61.3,24.6 L61.3,50.5 L0,50.5 Z" fill="#a8c865"/><path d="M0,32 L13.4,20.6 L14.2,36 L0,40 Z" fill="#b7d180"/><path d="M13.4,20.6 L23,29.6 L24,33.5 L17.5,35 L14.2,36 Z" fill="#a7c768"/><path d="M23,29.6 L34.9,16.4 L36,30.5 L17.5,35 Z" fill="#b0cd72"/><path d="M34.9,16.4 L46.8,28.8 L39,30.5 L36,30.5 Z" fill="#9dbe58"/><path d="M0,38 L14.2,35.5 L17.5,35 L16,50.5 L0,50.5 Z" fill="#8fb24a"/><path d="M17.5,35 L39,30.5 L61.3,24.6 L61.3,32.5 L47,38 L39.8,32.6 L20.5,39.8 Z" fill="#84a73f"/><path d="M20.5,39.8 L39.8,32.6 L47,38 L61.3,32.5 L61.3,50.5 L16,50.5 Z" fill="#c1dc66"/><circle cx="28.5" cy="44" r="7" fill="url(#gs)"/><circle cx="51.5" cy="40.5" r="7.5" fill="url(#gs)"/><circle cx="9.5" cy="40" r="5.5" fill="url(#gs)" opacity="0.65"/><path d="M17.5,36 L17,50.5" stroke="#4d6b26" stroke-width="1.6" fill="none" opacity="0.75"/><path d="M39.5,31 L48,50.5" stroke="#6a8a30" stroke-width="1.3" fill="none" opacity="0.7"/><path d="M17.5,35 L39,30.5 L61.3,25" stroke="#6d8c34" stroke-width="0.6" fill="none" opacity="0.7"/><path d="M13.6,21 L14.2,36 M35,17 L36,30" stroke="#cbe09a" stroke-width="0.7" fill="none"/><line x1="13.5" y1="21.0" x2="13.7" y2="27.0" stroke="#e25a48" stroke-width="1.5" stroke-linecap="butt"/><line x1="35.0" y1="17.0" x2="35.3" y2="23.0" stroke="#e25a48" stroke-width="1.5" stroke-linecap="butt"/><line x1="38.9" y1="30.6" x2="35.0" y2="35.0" stroke="#e25a48" stroke-width="1.5" stroke-linecap="butt"/><line x1="17.4" y1="35.4" x2="21.5" y2="38.5" stroke="#e25a48" stroke-width="1.5" stroke-linecap="butt"/><line x1="12.3" y1="43.3" x2="5.5" y2="42.5" stroke="#e25a48" stroke-width="1.5" stroke-linecap="butt"/><line x1="43.5" y1="47.1" x2="38.0" y2="45.0" stroke="#e25a48" stroke-width="1.5" stroke-linecap="butt"/><line x1="59.4" y1="26.1" x2="56.5" y2="31.0" stroke="#e25a48" stroke-width="1.5" stroke-linecap="butt"/><line x1="12.3" y1="43.3" x2="16.0" y2="45.0" stroke="#2a2a80" stroke-width="1.2" stroke-linecap="butt"/><circle cx="13.5" cy="19.5" r="2.85" fill="url(#ra)"/><circle cx="35.0" cy="15.0" r="2.85" fill="url(#ra)"/><circle cx="39.3" cy="30.5" r="2.85" fill="url(#ra)"/><circle cx="17.6" cy="34.8" r="2.85" fill="url(#ra)"/><circle cx="12.5" cy="43.0" r="2.85" fill="url(#ra)"/><circle cx="44.2" cy="47.4" r="2.85" fill="url(#ra)"/><circle cx="60.2" cy="25.8" r="2.85" fill="url(#ra)"/></g><rect x="0" y="0" width="61.3" height="50.5" fill="none" stroke="#2222e8" stroke-width="1.25"/></g>
<g transform="translate(235.8,2.1)"><clipPath id="c235_2"><rect x="0" y="0" width="61.6" height="50"/></clipPath><rect x="0" y="0" width="61.6" height="50" fill="#fff"/><g clip-path="url(#c235_2)"><path d="M0,28.5 L4.5,27.5 L14.5,37.5 L22,35 L26,33 L44.6,15.6 L61.6,29.5 L61.6,50 L0,50 Z" fill="#a9c966"/><path d="M0,28.5 L4.5,27.5 L5,42 L0,44 Z" fill="#b6d17e"/><path d="M26,33 L44.6,15.6 L45,33 L34,38 Z" fill="#b3cf78"/><path d="M44.6,15.6 L61.6,29.5 L61.6,37 L45,33 Z" fill="#9cbf58"/><path d="M0,41 L14.5,38 L30,40.5 L45,34 L61.6,37 L61.6,50 L0,50 Z" fill="#bad862"/><circle cx="23" cy="40" r="6" fill="url(#gs)"/><circle cx="43" cy="31" r="5.5" fill="url(#gs)"/><circle cx="6" cy="46" r="5.5" fill="url(#gs)"/><circle cx="52" cy="46" r="6.5" fill="url(#gs)"/><circle cx="23.5" cy="42.5" r="1.2" fill="#3d4a20"/><path d="M4,41 L20,45.5 L33,38.5 L53,34.5" stroke="#6d8a33" stroke-width="0.8" fill="none" opacity="0.75"/><path d="M44.7,16 L45,33" stroke="#cbe09a" stroke-width="0.7" fill="none"/><line x1="4.4" y1="28.0" x2="4.6" y2="35.5" stroke="#e25a48" stroke-width="1.5" stroke-linecap="butt"/><line x1="44.8" y1="14.0" x2="45.0" y2="21.5" stroke="#e25a48" stroke-width="1.5" stroke-linecap="butt"/><line x1="23.0" y1="34.4" x2="30.5" y2="33.2" stroke="#e25a48" stroke-width="1.5" stroke-linecap="butt"/><line x1="33.0" y1="40.0" x2="30.5" y2="46.5" stroke="#e25a48" stroke-width="1.5" stroke-linecap="butt"/><line x1="53.0" y1="34.0" x2="49.5" y2="40.0" stroke="#e25a48" stroke-width="1.5" stroke-linecap="butt"/><circle cx="44.8" cy="13.4" r="2.85" fill="url(#ra)"/><circle cx="4.4" cy="27.2" r="2.85" fill="url(#ra)"/><circle cx="23.1" cy="34.5" r="2.85" fill="url(#ra)"/><circle cx="33.0" cy="40.0" r="2.85" fill="url(#ra)"/><circle cx="53.1" cy="33.6" r="2.85" fill="url(#ra)"/><circle cx="12.7" cy="47.2" r="2.85" fill="url(#ra)"/></g><rect x="0" y="0" width="61.6" height="50" fill="none" stroke="#bb8d16" stroke-width="1.6"/></g>
<g transform="translate(303.3,2.0)"><clipPath id="c303_2"><rect x="0" y="0" width="61.3" height="50"/></clipPath><rect x="0" y="0" width="61.3" height="50" fill="#fff"/><g clip-path="url(#c303_2)"><path d="M0,32 L13.4,20.6 L23,29.6 L34.9,16.4 L46.8,28.8 L61.3,24.6 L61.3,50 L0,50 Z" fill="#a8c865"/><path d="M0,32 L13.4,20.6 L14.2,36 L0,40 Z" fill="#b7d180"/><path d="M13.4,20.6 L23,29.6 L24,33.5 L17.5,35 L14.2,36 Z" fill="#a7c768"/><path d="M23,29.6 L34.9,16.4 L36,30.5 L17.5,35 Z" fill="#b0cd72"/><path d="M34.9,16.4 L46.8,28.8 L39,30.5 L36,30.5 Z" fill="#9dbe58"/><path d="M0,38 L14.2,35.5 L17.5,35 L16,50 L0,50 Z" fill="#8fb24a"/><path d="M17.5,35 L39,30.5 L61.3,24.6 L61.3,32.5 L47,38 L39.8,32.6 L20.5,39.8 Z" fill="#84a73f"/><path d="M20.5,39.8 L39.8,32.6 L47,38 L61.3,32.5 L61.3,50 L16,50 Z" fill="#c1dc66"/><circle cx="28.5" cy="44" r="7" fill="url(#gs)"/><circle cx="51.5" cy="40.5" r="7.5" fill="url(#gs)"/><circle cx="9.5" cy="40" r="5.5" fill="url(#gs)" opacity="0.65"/><path d="M17.5,36 L17,50" stroke="#4d6b26" stroke-width="1.6" fill="none" opacity="0.75"/><path d="M39.5,31 L48,50" stroke="#6a8a30" stroke-width="1.3" fill="none" opacity="0.7"/><path d="M17.5,35 L39,30.5 L61.3,25" stroke="#6d8c34" stroke-width="0.6" fill="none" opacity="0.7"/><path d="M13.6,21 L14.2,36 M35,17 L36,30" stroke="#cbe09a" stroke-width="0.7" fill="none"/><line x1="13.5" y1="21.0" x2="13.7" y2="27.0" stroke="#e25a48" stroke-width="1.5" stroke-linecap="butt"/><line x1="35.0" y1="17.0" x2="35.3" y2="23.0" stroke="#e25a48" stroke-width="1.5" stroke-linecap="butt"/><line x1="38.9" y1="30.6" x2="35.0" y2="35.0" stroke="#e25a48" stroke-width="1.5" stroke-linecap="butt"/><line x1="17.4" y1="35.4" x2="21.5" y2="38.5" stroke="#e25a48" stroke-width="1.5" stroke-linecap="butt"/><line x1="12.3" y1="43.3" x2="5.5" y2="42.5" stroke="#e25a48" stroke-width="1.5" stroke-linecap="butt"/><line x1="43.5" y1="47.1" x2="38.0" y2="45.0" stroke="#e25a48" stroke-width="1.5" stroke-linecap="butt"/><line x1="59.4" y1="26.1" x2="56.5" y2="31.0" stroke="#e25a48" stroke-width="1.5" stroke-linecap="butt"/><line x1="12.3" y1="43.3" x2="16.0" y2="45.0" stroke="#2a2a80" stroke-width="1.2" stroke-linecap="butt"/><circle cx="13.5" cy="19.5" r="2.85" fill="url(#ra)"/><circle cx="35.0" cy="15.0" r="2.85" fill="url(#ra)"/><circle cx="39.3" cy="30.5" r="2.85" fill="url(#ra)"/><circle cx="17.6" cy="34.8" r="2.85" fill="url(#ra)"/><circle cx="12.5" cy="43.0" r="2.85" fill="url(#ra)"/><circle cx="44.2" cy="47.4" r="2.85" fill="url(#ra)"/><circle cx="60.2" cy="25.8" r="2.85" fill="url(#ra)"/><circle cx="29.5" cy="11.0" r="1.4" fill="#fff6f4" stroke="#c79a98" stroke-width="0.6"/><line x1="30.8" y1="11.8" x2="34.0" y2="13.5" stroke="#e8b0a8" stroke-width="1.0" stroke-linecap="butt"/></g><rect x="0" y="0" width="61.3" height="50" fill="none" stroke="#bb8d16" stroke-width="1.6"/></g>
<g transform="translate(319.2,55.0)"><clipPath id="c319_55"><rect x="0" y="0" width="61.7" height="49.6"/></clipPath><rect x="0" y="0" width="61.7" height="49.6" fill="#fff"/><g clip-path="url(#c319_55)"><path d="M0,32 L13.4,20.6 L23,29.6 L34.9,16.4 L46.8,28.8 L61.7,24.6 L61.7,49.6 L0,49.6 Z" fill="#a8c865"/><path d="M0,32 L13.4,20.6 L14.2,36 L0,40 Z" fill="#b7d180"/><path d="M13.4,20.6 L23,29.6 L24,33.5 L17.5,35 L14.2,36 Z" fill="#a7c768"/><path d="M23,29.6 L34.9,16.4 L36,30.5 L17.5,35 Z" fill="#b0cd72"/><path d="M34.9,16.4 L46.8,28.8 L39,30.5 L36,30.5 Z" fill="#9dbe58"/><path d="M0,38 L14.2,35.5 L17.5,35 L16,49.6 L0,49.6 Z" fill="#8fb24a"/><path d="M17.5,35 L39,30.5 L61.7,24.6 L61.7,32.5 L47,38 L39.8,32.6 L20.5,39.8 Z" fill="#84a73f"/><path d="M20.5,39.8 L39.8,32.6 L47,38 L61.7,32.5 L61.7,49.6 L16,49.6 Z" fill="#c1dc66"/><circle cx="28.5" cy="44" r="7" fill="url(#gs)"/><circle cx="51.5" cy="40.5" r="7.5" fill="url(#gs)"/><circle cx="9.5" cy="40" r="5.5" fill="url(#gs)" opacity="0.65"/><path d="M17.5,36 L17,49.6" stroke="#4d6b26" stroke-width="1.6" fill="none" opacity="0.75"/><path d="M39.5,31 L48,49.6" stroke="#6a8a30" stroke-width="1.3" fill="none" opacity="0.7"/><path d="M17.5,35 L39,30.5 L61.7,25" stroke="#6d8c34" stroke-width="0.6" fill="none" opacity="0.7"/><path d="M13.6,21 L14.2,36 M35,17 L36,30" stroke="#cbe09a" stroke-width="0.7" fill="none"/><line x1="13.5" y1="21.0" x2="13.7" y2="27.0" stroke="#e25a48" stroke-width="1.5" stroke-linecap="butt"/><line x1="35.0" y1="17.0" x2="35.3" y2="23.0" stroke="#e25a48" stroke-width="1.5" stroke-linecap="butt"/><line x1="38.9" y1="30.6" x2="35.0" y2="35.0" stroke="#e25a48" stroke-width="1.5" stroke-linecap="butt"/><line x1="17.4" y1="35.4" x2="21.5" y2="38.5" stroke="#e25a48" stroke-width="1.5" stroke-linecap="butt"/><line x1="12.3" y1="43.3" x2="5.5" y2="42.5" stroke="#e25a48" stroke-width="1.5" stroke-linecap="butt"/><line x1="43.5" y1="47.1" x2="38.0" y2="45.0" stroke="#e25a48" stroke-width="1.5" stroke-linecap="butt"/><line x1="59.4" y1="26.1" x2="56.5" y2="31.0" stroke="#e25a48" stroke-width="1.5" stroke-linecap="butt"/><line x1="12.3" y1="43.3" x2="16.0" y2="45.0" stroke="#2a2a80" stroke-width="1.2" stroke-linecap="butt"/><circle cx="13.5" cy="19.5" r="2.85" fill="url(#ra)"/><circle cx="35.0" cy="15.0" r="2.85" fill="url(#ra)"/><circle cx="39.3" cy="30.5" r="2.85" fill="url(#ra)"/><circle cx="17.6" cy="34.8" r="2.85" fill="url(#ra)"/><circle cx="12.5" cy="43.0" r="2.85" fill="url(#ra)"/><circle cx="44.2" cy="47.4" r="2.85" fill="url(#ra)"/><circle cx="60.2" cy="25.8" r="2.85" fill="url(#ra)"/></g><rect x="0" y="0" width="61.7" height="49.6" fill="none" stroke="#bb8d16" stroke-width="1.6"/></g>
<line x1="47.5" y1="94.5" x2="58" y2="93" stroke="#262626" stroke-width="0.85" marker-start="url(#ah)" marker-end="url(#ah)"/>
<line x1="118" y1="91.5" x2="111.5" y2="150.5" stroke="#262626" stroke-width="0.85" marker-start="url(#ah)" marker-end="url(#ah)"/>
<line x1="163" y1="118.5" x2="150" y2="150.5" stroke="#262626" stroke-width="0.85" marker-start="url(#ah)" marker-end="url(#ah)"/>
<line x1="205" y1="118.5" x2="217" y2="150.5" stroke="#262626" stroke-width="0.85" marker-start="url(#ah)" marker-end="url(#ah)"/>
<line x1="275.5" y1="53" x2="260.5" y2="89.5" stroke="#262626" stroke-width="0.85" marker-start="url(#ah)" marker-end="url(#ah)"/>
<line x1="264.5" y1="134" x2="253.5" y2="203" stroke="#262626" stroke-width="0.85" marker-start="url(#ah)" marker-end="url(#ah)"/>
<line x1="276" y1="146" x2="280.5" y2="203" stroke="#262626" stroke-width="0.85" marker-start="url(#ah)" marker-end="url(#ah)"/>
<line x1="306.6" y1="53.5" x2="306.6" y2="175.6" stroke="#262626" stroke-width="0.85" marker-start="url(#ah)" marker-end="url(#ah)"/>
<line x1="360.5" y1="105.5" x2="351" y2="182" stroke="#262626" stroke-width="0.85" marker-start="url(#ah)" marker-end="url(#ah)"/>
<line x1="352" y1="187" x2="360" y2="203" stroke="#262626" stroke-width="0.85" marker-start="url(#ah)" marker-end="url(#ah)"/>
<text x="62" y="86.8" class="lb" text-anchor="start">O + O</text>
<text x="83.70" y="73.8" class="bd">H<tspan font-size="4.3" dy="1.5">2</tspan><tspan dy="-1.5">&#8203;</tspan>O</text><text transform="translate(95.85,74.50) scale(1.5,1)" class="ar">↓</text>
<text x="103.4" y="86.8" class="lb" text-anchor="start">OH + OOH</text>
<text x="148" y="114.2" class="lb" text-anchor="start">OH + OO</text>
<text x="191.2" y="114.2" class="lb" text-anchor="start">O + OO</text>
<text x="217.00" y="58.8" class="bd">O<tspan font-size="4.3" dy="1.5">2</tspan><tspan dy="-1.5">&#8203;</tspan></text><text transform="translate(224.05,59.80) scale(1.5,1)" class="ar">↑</text>
<text x="246" y="76.3" class="bn">+ O<tspan font-size="4.3" dy="1.5">2</tspan><tspan dy="-1.5">&#8203;</tspan></text>
<text x="238.5" y="86.8" class="lb" text-anchor="start">O + V</text>
<text x="228.60" y="104.4" class="bd">H<tspan font-size="4.3" dy="1.5">2</tspan><tspan dy="-1.5">&#8203;</tspan>O</text><text transform="translate(240.75,105.10) scale(1.5,1)" class="ar">↓</text>
<text x="234.8" y="129" class="lb" text-anchor="start">OO + OO</text>
<text x="229.3" y="142" class="lb"><tspan class="bc">b:</tspan><tspan class="bo"> O + OH</tspan></text>
<text x="262.40" y="116.6" class="bd">H<tspan font-size="4.3" dy="1.5">2</tspan><tspan dy="-1.5">&#8203;</tspan>O</text><text transform="translate(274.55,117.30) scale(1.5,1)" class="ar">↓</text>
<text x="277.6" y="141.2" class="lb" text-anchor="start">OO + OO</text>
<text x="310.90" y="122.3" class="bd">O<tspan font-size="4.3" dy="1.5">2</tspan><tspan dy="-1.5">&#8203;</tspan></text><text transform="translate(317.95,123.30) scale(1.5,1)" class="ar">↑</text>
<text x="288.6" y="162" class="bn">+ O<tspan font-size="4.3" dy="1.5">2</tspan><tspan dy="-1.5">&#8203;</tspan></text>
<text x="279.8" y="172.2" class="lb" text-anchor="start">O + OH</text>
<text x="335" y="169.5" class="bn">+ O<tspan font-size="4.3" dy="1.5">2</tspan><tspan dy="-1.5">&#8203;</tspan></text>
<text x="326.5" y="179.2" class="lb" text-anchor="start">O + O</text>
<text x="48" y="399.2" class="lb" text-anchor="start">OH + OH</text>
<text x="65" y="355.2" class="lb" text-anchor="start">O + O</text>
<text x="84.20" y="339.3" class="bd">H<tspan font-size="4.3" dy="1.5">2</tspan><tspan dy="-1.5">&#8203;</tspan>O</text><text transform="translate(96.35,340.00) scale(1.5,1)" class="ar">↓</text>
<text x="106.8" y="347" class="lb" text-anchor="start">OH + OOH</text>
<text x="150.9" y="364.8" class="lb" text-anchor="start">OH + OO</text>
<text x="194" y="345.5" class="lb" text-anchor="start">O + OO</text>
<text x="219.20" y="283.1" class="bd">O<tspan font-size="4.3" dy="1.5">2</tspan><tspan dy="-1.5">&#8203;</tspan></text><text transform="translate(226.25,284.10) scale(1.5,1)" class="ar">↑</text>
<text x="249.4" y="300.6" class="bn">+ O<tspan font-size="4.3" dy="1.5">2</tspan><tspan dy="-1.5">&#8203;</tspan></text>
<text x="241.3" y="311.5" class="lb" text-anchor="start">O + V</text>
<text x="214.70" y="329.7" class="bd">H<tspan font-size="4.3" dy="1.5">2</tspan><tspan dy="-1.5">&#8203;</tspan>O</text><text transform="translate(226.85,330.40) scale(1.5,1)" class="ar">↓</text>
<text x="238.7" y="339.5" class="lb" text-anchor="start">OO + OO</text>
<text x="235.2" y="354.2" class="lb"><tspan class="bc">b:</tspan><tspan class="bo"> O + OH</tspan></text>
<text x="264.20" y="368.4" class="bd">H<tspan font-size="4.3" dy="1.5">2</tspan><tspan dy="-1.5">&#8203;</tspan>O</text><text transform="translate(276.35,369.10) scale(1.5,1)" class="ar">↓</text>
<text x="279.2" y="337" class="lb" text-anchor="start">OO + OO</text>
<text x="306.70" y="314.8" class="bd">O<tspan font-size="4.3" dy="1.5">2</tspan><tspan dy="-1.5">&#8203;</tspan></text><text transform="translate(313.75,315.80) scale(1.5,1)" class="ar">↑</text>
<text x="291.6" y="378.5" class="bn">+ O<tspan font-size="4.3" dy="1.5">2</tspan><tspan dy="-1.5">&#8203;</tspan></text>
<text x="284.1" y="388.6" class="lb" text-anchor="start">O + OH</text>
<text x="337.2" y="371.8" class="bn">+ O<tspan font-size="4.3" dy="1.5">2</tspan><tspan dy="-1.5">&#8203;</tspan></text>
<text x="329" y="381.8" class="lb" text-anchor="start">O + O</text>
</svg>
</body></html>
